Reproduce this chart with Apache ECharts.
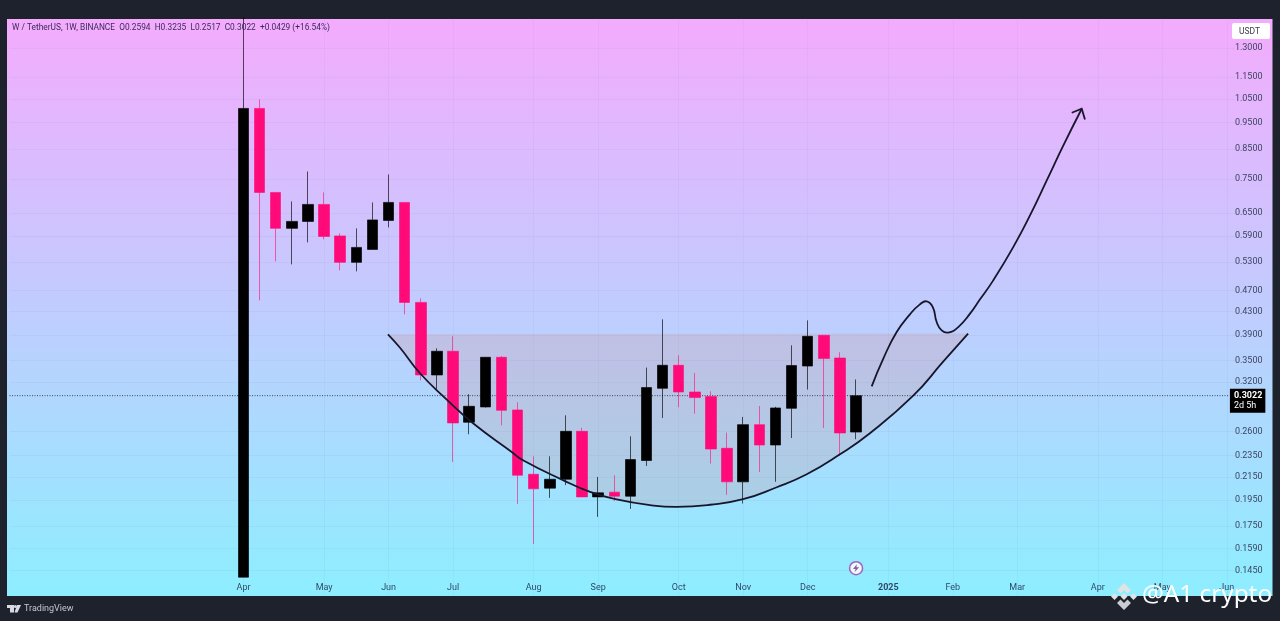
<!DOCTYPE html>
<html>
<head>
<meta charset="utf-8">
<title>W / TetherUS</title>
<script src="https://cdn.jsdelivr.net/npm/echarts@6/dist/echarts.min.js"></script>
<style>
  html, body { margin: 0; padding: 0; background: #1e222d; }
  #chart { width: 1280px; height: 621px; }
</style>
</head>
<body>
<div id="chart"></div>
<script>
// weekly candles from 2024-04-01, each row [open, close, low, high]
const candles = [
  [0.1411, 1.0087, 0.1411, 1.48],
  [1.0087, 0.7091, 0.4508, 1.0475],
  [0.7091, 0.6098, 0.5309, 0.7091],
  [0.6098, 0.6279, 0.5243, 0.6828],
  [0.6279, 0.6743, 0.5750, 0.7743],
  [0.6743, 0.5896, 0.5822, 0.7091],
  [0.5908, 0.5287, 0.5113, 0.5971],
  [0.5287, 0.5630, 0.5092, 0.6098],
  [0.5583, 0.6318, 0.5583, 0.6800],
  [0.6305, 0.6800, 0.6123, 0.7646],
  [0.6800, 0.4470, 0.4251, 0.6800],
  [0.4470, 0.3296, 0.3223, 0.4546],
  [0.3296, 0.3641, 0.3091, 0.3687],
  [0.3641, 0.2695, 0.2288, 0.3877],
  [0.2703, 0.2890, 0.2570, 0.3040],
  [0.2882, 0.3550, 0.2875, 0.3550],
  [0.3550, 0.2842, 0.2669, 0.3568],
  [0.2846, 0.2164, 0.1919, 0.2939],
  [0.2173, 0.2044, 0.1622, 0.2343],
  [0.2050, 0.2128, 0.1968, 0.2343],
  [0.2128, 0.2602, 0.2076, 0.2783],
  [0.2602, 0.1976, 0.1974, 0.2640],
  [0.1976, 0.2010, 0.1817, 0.2149],
  [0.2016, 0.1982, 0.1941, 0.2164],
  [0.1982, 0.2311, 0.1879, 0.2548],
  [0.2302, 0.3126, 0.2250, 0.3400],
  [0.3117, 0.3433, 0.2752, 0.4163],
  [0.3433, 0.3069, 0.2878, 0.3580],
  [0.3069, 0.2998, 0.2803, 0.3324],
  [0.3010, 0.2416, 0.2273, 0.3078],
  [0.2423, 0.2105, 0.1993, 0.2588],
  [0.2105, 0.2676, 0.1922, 0.2764],
  [0.2676, 0.2457, 0.2194, 0.2894],
  [0.2457, 0.2870, 0.2105, 0.2884],
  [0.2866, 0.3429, 0.2530, 0.3733],
  [0.3422, 0.3877, 0.3100, 0.4145],
  [0.3893, 0.3531, 0.2639, 0.3893],
  [0.3539, 0.2584, 0.2346, 0.3626],
  [0.2594, 0.3022, 0.2517, 0.3235]
]
const lastPrice = 0.3022
const priceTicks = [0.145, 0.159, 0.175, 0.195, 0.215, 0.235, 0.26, 0.32, 0.35, 0.39, 0.43, 0.47, 0.53, 0.59, 0.65, 0.75, 0.85, 0.95, 1.05, 1.15, 1.3]
// week number -> label
const monthTicks = { 0: 'Apr', 5: 'May', 9: 'Jun', 13: 'Jul', 18: 'Aug', 22: 'Sep', 27: 'Oct', 31: 'Nov', 35: 'Dec', 40: '{year|2025}', 44: 'Feb', 48: 'Mar', 53: 'Apr', 57: 'May', 61: 'Jun' }
// hand drawn annotations, [week, price]
const cupCurve = [
  [8.96, 0.3910], [9.71, 0.3695], [10.95, 0.3320], [12.61, 0.2973], [14.24, 0.2691], [16.64, 0.2386],
  [17.34, 0.2304], [19.82, 0.2120], [21.50, 0.2018], [23.15, 0.1955], [25.22, 0.1909], [26.87, 0.1895],
  [28.94, 0.1912], [30.99, 0.1957], [33.08, 0.2058], [34.94, 0.2173], [37.00, 0.2363], [38.86, 0.2581],
  [41.53, 0.3018], [43.39, 0.3481], [44.95, 0.3921]
]
const forecastPath = [
  [38.97, 0.3143], [39.69, 0.3531], [40.52, 0.3947], [41.34, 0.4250], [41.96, 0.4433], [42.38, 0.4489],
  [42.76, 0.4383], [43.00, 0.4116], [43.31, 0.3975], [43.72, 0.3938], [44.34, 0.4030], [45.07, 0.4263],
  [45.69, 0.4527], [46.51, 0.4902], [47.75, 0.5637], [48.79, 0.6439], [49.83, 0.7456], [50.86, 0.8635], [52.00, 1.0074]
]
const arrowHead = [[51.38, 0.9907], [52.00, 1.0074], [52.20, 0.9632]]
const eventMark = [[38, 0.1465]]

const legendText = 'W / TetherUS, 1W, BINANCE  O0.2594  H0.3235  L0.2517  C0.3022  +0.0429 (+16.54%)'
const firstWeek = -14
const lastWeek = 61

const weeks = []
for (let w = firstWeek; w <= lastWeek; w++) weeks.push(w)

const chart = echarts.init(document.getElementById('chart'))

// line series smoothing kinks on uneven points, so the pen strokes are polylines on the same axes
function penStroke(data, smooth) {
  return {
    type: 'custom',
    xAxisIndex: 1,
    silent: true,
    z: 5,
    data: [0],
    renderItem: (params, api) => ({
      type: 'polyline',
      shape: { points: data.map((p) => api.coord(p)), smooth: smooth },
      style: { stroke: '#17162a', lineWidth: 1.8, fill: 'none' }
    })
  }
}

chart.setOption({
  animation: false,
  backgroundColor: '#1e222d',
  textStyle: { fontFamily: 'Roboto' },
  grid: { left: 9.76, top: 19.5, width: 1225.12, height: 577 },
  xAxis: [
    {
      type: 'category',
      data: weeks,
      axisLine: { show: false },
      axisTick: { show: false },
      axisLabel: {
        inside: true,
        margin: 4,
        fontSize: 9,
        color: '#2f4a66',
        interval: (i, w) => monthTicks[w] !== undefined,
        formatter: (w) => monthTicks[w],
        rich: { year: { fontSize: 9, fontWeight: 'bold', color: '#2f4a66' } }
      },
      splitLine: {
        show: true,
        alignWithLabel: true,
        interval: (i, w) => monthTicks[w] !== undefined,
        lineStyle: { color: 'rgba(120,130,180,0.07)' }
      }
    },
    { type: 'value', min: firstWeek - 0.5, max: lastWeek + 0.5, show: false }
  ],
  yAxis: {
    type: 'log',
    logBase: 10,
    position: 'right',
    min: 0.1301,
    max: 1.465,
    axisLine: { show: false },
    axisTick: { show: false, customValues: priceTicks },
    axisLabel: {
      customValues: priceTicks,
      margin: 0,
      padding: [4, 0, 0, 0],
      fontSize: 9,
      color: '#3c4560',
      formatter: (v) => Number(v).toFixed(4)
    },
    splitLine: { show: true, lineStyle: { color: 'rgba(120,130,180,0.09)' } }
  },
  series: [
    {
      type: 'custom',
      xAxisIndex: 1,
      silent: true,
      z: 1,
      data: [0],
      renderItem: (params, api) => ({
        type: 'polygon',
        shape: { points: cupCurve.map((p) => api.coord(p)) },
        style: { fill: 'rgba(215,130,130,0.2)' }
      })
    },
    {
      type: 'line',
      xAxisIndex: 1,
      clip: false,
      silent: true,
      showSymbol: false,
      z: 2,
      data: [[firstWeek - 0.67, lastPrice], [lastWeek + 0.13, lastPrice]],
      lineStyle: { color: '#3d4258', type: [1, 1.5], width: 1 },
      endLabel: {
        show: true,
        distance: 0,
        offset: [1, 5],
        formatter: '{a|0.3022}\n{b|2d 5h}',
        backgroundColor: '#000000',
        padding: [2, 3, 2, 4],
        rich: {
          a: { color: '#ffffff', fontSize: 9, fontWeight: 'bold', lineHeight: 10 },
          b: { color: '#ffffff', fontSize: 9, lineHeight: 10 }
        }
      }
    },
    {
      type: 'candlestick',
      clip: false,
      barWidth: 11,
      z: 3,
      encode: { x: 0, y: [1, 2, 3, 4] },
      data: candles.map((c, i) => [i - firstWeek, c[0], c[1], c[2], c[3]]),
      itemStyle: {
        color: '#000000',
        borderColor: 'rgba(0,0,0,0.65)',
        color0: '#ff0a78',
        borderColor0: 'rgba(255,10,120,0.6)',
        borderWidth: 1
      }
    },
    penStroke(cupCurve, 0.5),
    penStroke(forecastPath, 0.5),
    penStroke(arrowHead, 0),
    {
      type: 'scatter',
      xAxisIndex: 1,
      data: eventMark,
      symbolSize: 13,
      itemStyle: { color: '#ffffff', borderColor: '#a33fa3', borderWidth: 1.5 },
      z: 6
    },
    {
      type: 'scatter',
      xAxisIndex: 1,
      data: eventMark,
      symbol: 'path://M6 0 L1 7 L4.5 7 L3 12 L9 4.5 L5.5 4.5 Z',
      symbolSize: [6, 8],
      itemStyle: { color: '#7d2a80' },
      z: 7
    }
  ],
  graphic: [
    {
      type: 'rect',
      z: -10,
      shape: { x: 7, y: 19, width: 1265.5, height: 577 },
      style: {
        fill: new echarts.graphic.LinearGradient(0, 0, 0, 1, [
          { offset: 0, color: '#f4abfd' },
          { offset: 1, color: '#8deeff' }
        ])
      }
    },
    {
      type: 'text',
      z: 100,
      x: 12,
      y: 24,
      style: { text: legendText, fontFamily: 'Roboto', fontSize: 8.35, fill: '#3b2a5c' }
    },
    {
      type: 'rect',
      z: 100,
      shape: { x: 1232, y: 23, width: 38, height: 16, r: 2 },
      style: { fill: '#ffffff' }
    },
    {
      type: 'text',
      z: 101,
      x: 1239,
      y: 27,
      style: { text: 'USDT', fontFamily: 'Roboto', fontSize: 8.5, fill: '#3c4048' }
    },
    {
      // TradingView mark
      type: 'polygon',
      z: 100,
      shape: { points: [[7, 605], [14, 605], [14, 612.5], [10, 612.5], [10, 608], [7, 608]] },
      style: { fill: '#d8dbe2' }
    },
    { type: 'circle', z: 100, shape: { cx: 15.4, cy: 606.5, r: 1.5 }, style: { fill: '#d8dbe2' } },
    {
      type: 'polygon',
      z: 100,
      shape: { points: [[17, 605], [21, 605], [17.5, 612.5], [14.5, 612.5]] },
      style: { fill: '#d8dbe2' }
    },
    {
      type: 'text',
      z: 100,
      x: 24,
      y: 604,
      style: { text: 'TradingView', fontFamily: 'Roboto', fontSize: 9, fill: '#c3c7d0' }
    },
    // watermark logo
    { type: 'polygon', z: 100, shape: { points: [[1124, 583], [1131, 590], [1127.5, 593.5], [1124, 590], [1120.5, 593.5], [1117, 590]] }, style: { fill: '#dfe3e6' } },
    { type: 'polygon', z: 100, shape: { points: [[1114.5, 593], [1118, 596.5], [1114.5, 600], [1111, 596.5]] }, style: { fill: '#dfe3e6' } },
    { type: 'polygon', z: 100, shape: { points: [[1133.5, 593], [1137, 596.5], [1133.5, 600], [1130, 596.5]] }, style: { fill: '#dfe3e6' } },
    { type: 'polygon', z: 100, shape: { points: [[1124, 593], [1127.5, 596.5], [1124, 600], [1120.5, 596.5]] }, style: { fill: '#dfe3e6' } },
    { type: 'polygon', z: 100, shape: { points: [[1117, 603], [1120.5, 599.5], [1124, 603], [1127.5, 599.5], [1131, 603], [1124, 610]] }, style: { fill: '#c9ccd0' } },
    {
      type: 'text',
      z: 100,
      x: 1142,
      y: 583,
      style: { text: '@A1 crypto', fontFamily: 'Noto Sans', fontSize: 24.3, fill: '#ffffff' }
    }
  ]
})
</script>
</body>
</html>
